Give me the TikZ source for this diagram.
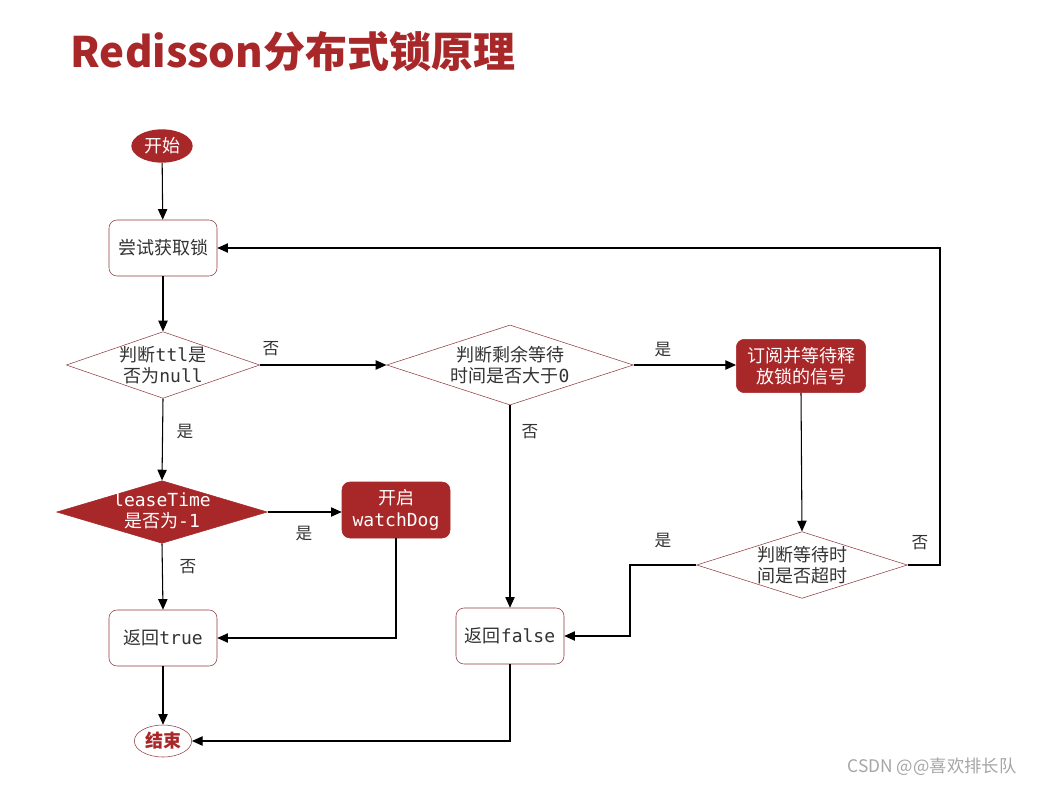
\documentclass[tikz,border=0pt]{standalone}
\usepackage{fontspec}
\setmainfont{Noto Sans CJK SC}
\newfontfamily\m{DejaVu Sans Mono}
\usetikzlibrary{shapes.geometric,arrows.meta}
\definecolor{rd}{HTML}{A8282A}
\definecolor{bd}{HTML}{8E3B3F}
\definecolor{tx}{HTML}{333333}
\tikzset{
 box/.style={draw=bd,rounded corners=6pt,fill=white,inner sep=0pt,minimum width=81pt,minimum height=42pt,text=tx,font=\fontsize{13.5}{16}\selectfont},
 rbox/.style={box,fill=rd,draw=rd,text=white},
 dia/.style={diamond,draw=bd,inner sep=0pt},
 rdia/.style={dia,fill=rd,draw=rd},
 txt/.style={align=center,text=tx,font=\fontsize{13.5}{16}\selectfont},
 lab/.style={text=tx,font=\fontsize{12.5}{14}\selectfont},
 arr/.style={draw=black,-{Triangle[length=8pt,width=7pt]},line width=0.8pt},
}
\begin{document}
\begin{tikzpicture}[x=0.75pt,y=-0.75pt]
\useasboundingbox[fill=white] (0,0) rectangle (1041,785);
\node[anchor=west,text=rd,font=\fontsize{31.5}{36}\selectfont\bfseries] (title) at (66,52) {Redisson分布式锁原理};
\node[ellipse,fill=rd,text=white,minimum width=46pt,minimum height=25pt,inner sep=0pt,font=\fontsize{13.5}{16}\selectfont] (start) at (162,146) {开始};
\node[box] (try) at (163,248) {尝试获取锁};
\node[dia,minimum width=145pt,minimum height=50pt] (d1) at (163,365) {};
\node[txt] (d1t) at (163,365) {判断{\m ttl}是\\否为{\m null}};
\node[dia,minimum width=185pt,minimum height=60pt] (d2) at (510,365) {};
\node[txt] (d2t) at (510,365) {判断剩余等待\\时间是否大于{\m 0}};
\node[rbox,minimum width=97pt,minimum height=40pt,align=center] (sub) at (801,366) {订阅并等待释\\放锁的信号};
\node[rdia,minimum width=158pt,minimum height=47pt] (lease) at (162,512) {};
\node[txt,text=white] (leaset) at (162,511) {{\m leaseTime}\\是否为{\m -1}};
\node[rbox,align=center] (watch) at (396,510) {开启\\{\m watchDog}};
\node[dia,minimum width=158pt,minimum height=50pt] (d3) at (802,565) {};
\node[txt] (d3t) at (802,565) {判断等待时\\间是否超时};
\node[box] (true) at (163,638) {返回{\m true}};
\node[box] (false) at (510,636) {返回{\m false}};
\node[ellipse,draw=bd,fill=white,text=rd,minimum width=43pt,minimum height=24pt,inner sep=0pt,font=\fontsize{13.5}{16}\selectfont\bfseries] (end) at (163,741) {结束};
\coordinate (c1) at (630,565);
\coordinate (c2) at (630,636);
\coordinate (c3) at (940,565);
\coordinate (c4) at (940,248);
\draw[arr] (start) -- (try);
\draw[arr] (try) -- (d1);
\draw[arr] (d1.east) -- (d2.west);
\draw[arr] (d1.south) -- (lease.north);
\draw[arr] (lease.east) -- (lease.east -| watch.west);
\draw[arr] (lease.south) -- (true.north);
\draw[arr] (watch.south) |- (true.east);
\draw[arr] (d2.east) -- (d2.east -| sub.west);
\draw[arr] (d2.south) -- (false.north);
\draw[arr] (sub.south) -- (d3.north);
\draw[arr] (d3.west) -- (c1) -- (c2) -- (false.east);
\draw[arr] (d3.east) -- (c3) -- (c4) -- (try.east);
\draw[arr] (true) -- (end);
\draw[arr] (false.south) |- (end.east);
\node[lab] (l1) at (271,349) {否};
\node[lab] (l2) at (185,432) {是};
\node[lab] (l3) at (304,534) {是};
\node[lab] (l4) at (188,567) {否};
\node[lab] (l5) at (663,350) {是};
\node[lab] (l6) at (530,432) {否};
\node[lab] (l7) at (663,541) {是};
\node[lab] (l8) at (920,543) {否};
\node[text=gray!70,font=\fontsize{13}{15}\selectfont] (wm) at (932,767) {CSDN @@喜欢排长队};
\end{tikzpicture}
\end{document}
